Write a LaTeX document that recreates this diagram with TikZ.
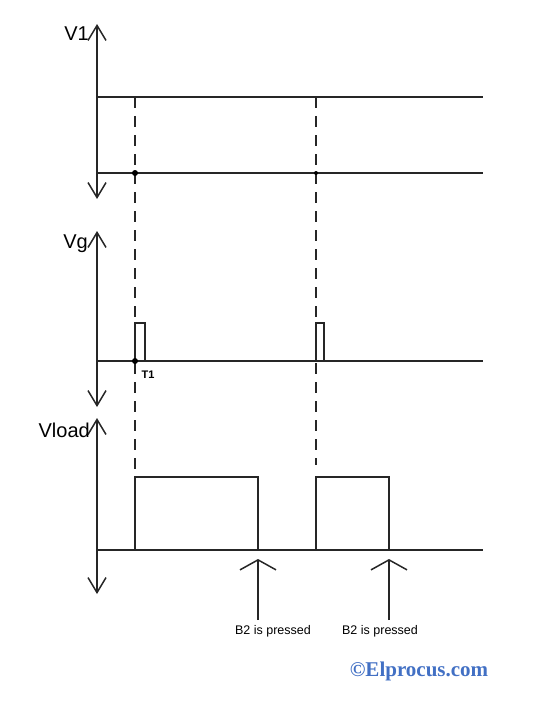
\documentclass[tikz,border=0pt]{standalone}
\usepackage{fontspec}
\setmainfont{Liberation Sans}
\newfontfamily\wmfont{Liberation Serif}
\usetikzlibrary{arrows.meta}
\definecolor{wmblue}{RGB}{66,112,196}
\tikzset{
  ln/.style={line width=1.8pt, black!85},
  axis/.style={ln, {Straight Barb[length=15pt,width=18pt,line width=1.5pt]}-{Straight Barb[length=15pt,width=18pt,line width=1.5pt]}},
  dsh/.style={line width=1.8pt, black!85, dash pattern=on 11pt off 8pt},
  press/.style={ln, -{Straight Barb[length=10pt,width=36pt,line width=1.5pt]}},
  ylab/.style={font=\fontsize{20}{23}\selectfont, inner sep=0pt},
  plab/.style={font=\fontsize{12.5}{14}\selectfont, inner sep=0pt},
  dotc/.style={fill=black, circle, inner sep=0pt, minimum size=6pt}
}
\begin{document}
\begin{tikzpicture}[x=1pt,y=-1pt]
\useasboundingbox (0,0) rectangle (543,706);
% coordinates
\coordinate (a1t) at (97,24);  \coordinate (a1b) at (97,199);
\coordinate (a2t) at (97,231); \coordinate (a2b) at (97,407);
\coordinate (a3t) at (97,418); \coordinate (a3b) at (97,594);
\coordinate (h1s) at (97,97);  \coordinate (h1e) at (483,97);
\coordinate (h2s) at (97,173); \coordinate (h2e) at (483,173);
\coordinate (gs) at (97,361);  \coordinate (ge) at (483,361);
\coordinate (ls) at (97,550);  \coordinate (le) at (483,550);
\coordinate (d1t) at (135,97); \coordinate (d1b) at (135,478);
\coordinate (d2t) at (316,97); \coordinate (d2b) at (316,465);
% axes
\draw[axis] (a1b) -- (a1t);
\draw[axis] (a2b) -- (a2t);
\draw[axis] (a3b) -- (a3t);
% V1 levels
\draw[ln] (h1s) -- (h1e);
\draw[ln] (h2s) -- (h2e);
% baselines
\draw[ln] (gs) -- (ge);
\draw[ln] (ls) -- (le);
% dashed markers
\draw[dsh] (d1t) -- (d1b);
\draw[dsh] (d2t) -- (d2b);
% gate pulses
\draw[ln] (135,361) -- (135,323) -- (145,323) -- (145,361);
\draw[ln] (316,361) -- (316,323) -- (324,323) -- (324,361);
% load pulses
\draw[ln] (135,550) -- (135,477) -- (258,477) -- (258,550);
\draw[ln] (316,550) -- (316,477) -- (389,477) -- (389,550);
% dots
\node[dotc] (p1) at (135,173) {};
\node[dotc, minimum size=4pt] (p2) at (316,173) {};
\node[dotc] (p3) at (135,361) {};
% labels
\node[ylab, anchor=base east] (lv1) at (89,41) {V1};
\node[ylab, anchor=base east] (lvg) at (88,248) {Vg};
\node[ylab, anchor=base east] (lvl) at (90,437) {Vload};
\node[font=\bfseries\fontsize{11}{13}\selectfont, inner sep=0pt] (t1) at (148,375) {T1};
% B2 pressed
\node[plab, anchor=base] (b1) at (273,634) {B2 is pressed};
\node[plab, anchor=base] (b2) at (380,634) {B2 is pressed};
\coordinate (b1t) at (258,559); \coordinate (b1s) at (258,620);
\coordinate (b2t) at (389,559); \coordinate (b2s) at (389,620);
\draw[press] (b1s) -- (b1t);
\draw[press] (b2s) -- (b2t);
% watermark
\node[font=\wmfont\bfseries\fontsize{21}{24}\selectfont, text=wmblue, inner sep=0pt] (wm) at (419,671) {©Elprocus.com};
\end{tikzpicture}
\end{document}
